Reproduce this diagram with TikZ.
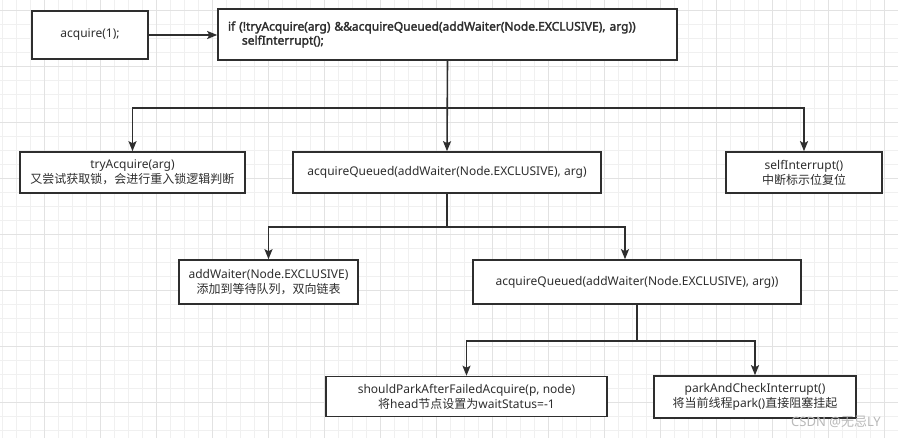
\documentclass[tikz,border=0pt]{standalone}
\usepackage{fontspec}
\setmainfont{Noto Sans}
\newfontfamily\cjk{Noto Sans CJK SC}
\newfontfamily\fakebold{Noto Sans}[FakeBold=2.2]
\usetikzlibrary{arrows.meta}
\definecolor{ink}{HTML}{2E2E2E}
\definecolor{gridlight}{HTML}{F0F0F0}
\definecolor{griddark}{HTML}{E2E2E2}
\tikzset{
  box/.style={draw=ink, line width=1.6pt, fill=white, text=ink, align=center,
    font=\fontsize{12}{15}\selectfont, inner sep=0pt},
  conn/.style={draw=ink, line width=1.6pt},
  arr/.style={conn, -{Stealth[length=10pt,width=8pt,inset=2pt]}},
}
\begin{document}
\begin{tikzpicture}[x=1pt,y=-1pt]
\useasboundingbox (0,0) rectangle (898,438);
\fill[white] (0,0) rectangle (898,438);
% grid
\foreach \k in {0,...,64} {\draw[gridlight, line width=0.8pt] (2.7+14*\k,0) -- (2.7+14*\k,438);}
\foreach \k in {0,...,31} {\draw[gridlight, line width=0.8pt] (0,10.7+14*\k) -- (898,10.7+14*\k);}
\foreach \k in {0,...,15} {\draw[griddark, line width=0.8pt] (44.7+56*\k,0) -- (44.7+56*\k,438);}
\foreach \k in {0,...,7} {\draw[griddark, line width=0.8pt] (0,10.7+56*\k) -- (898,10.7+56*\k);}
% boxes
\node[box, minimum width=116pt, minimum height=48pt] (acq) at (90,35) {acquire(1);};
\node[box, text width=439pt, inner xsep=10pt, minimum height=51pt, align=left, font=\fontsize{12}{14}\fakebold] (ifb) at (447.5,34.5)
  {if (!tryAcquire(arg) \&\&acquireQueued(addWaiter(Node.EXCLUSIVE), arg))\\\hspace*{14pt}selfInterrupt();};
\node[box, minimum width=225pt, minimum height=41pt] (try) at (132.5,172.5)
  {tryAcquire(arg)\\{\cjk 又尝试获取锁，会进行重入锁逻辑判断}};
\node[box, minimum width=308pt, minimum height=41pt] (aq1) at (447,172.5)
  {acquireQueued(addWaiter(Node.EXCLUSIVE), arg)};
\node[box, minimum width=156pt, minimum height=41pt] (self) at (804,172.5)
  {selfInterrupt()\\{\cjk 中断标示位复位}};
\node[box, minimum width=179pt, minimum height=44pt] (addw) at (268.5,282)
  {addWaiter(Node.EXCLUSIVE)\\{\cjk 添加到等待队列，双向链表}};
\node[box, minimum width=328pt, minimum height=44pt] (aq2) at (637,282)
  {acquireQueued(addWaiter(Node.EXCLUSIVE), arg))};
\node[box, minimum width=281pt, minimum height=40pt] (should) at (466.5,396.5)
  {shouldParkAfterFailedAcquire(p, node)\\{\cjk 将}head{\cjk 节点设置为}waitStatus=-1};
\node[box, minimum width=202pt, minimum height=42pt] (park) at (755,397)
  {parkAndCheckInterrupt()\\{\cjk 将当前线程}park(){\cjk 直接阻塞挂起}};
% connectors
\draw[arr] (acq.east) -- (acq.east -| ifb.west);
\draw[arr] (ifb.south) -- ++(0,47) -| (try.north);
\draw[arr] (ifb.south) -- (aq1.north);
\draw[arr] (ifb.south) -- ++(0,47) -| (self.north);
\draw[arr] (aq1.south) -- ++(0,33) -| (addw.north);
\draw[arr] (aq1.south) -- ++(0,33) -| ([xshift=-12pt]aq2.north);
\draw[arr] (aq2.south) -- ++(0,36) -| (should.north);
\draw[arr] (aq2.south) -- ++(0,36) -| (park.north);
% watermark
\node[text=gray!55, font=\fontsize{13}{13}\selectfont, inner sep=0pt] (wm) at (836,422) {CSDN @{\cjk 无忌}LY};
\end{tikzpicture}
\end{document}
